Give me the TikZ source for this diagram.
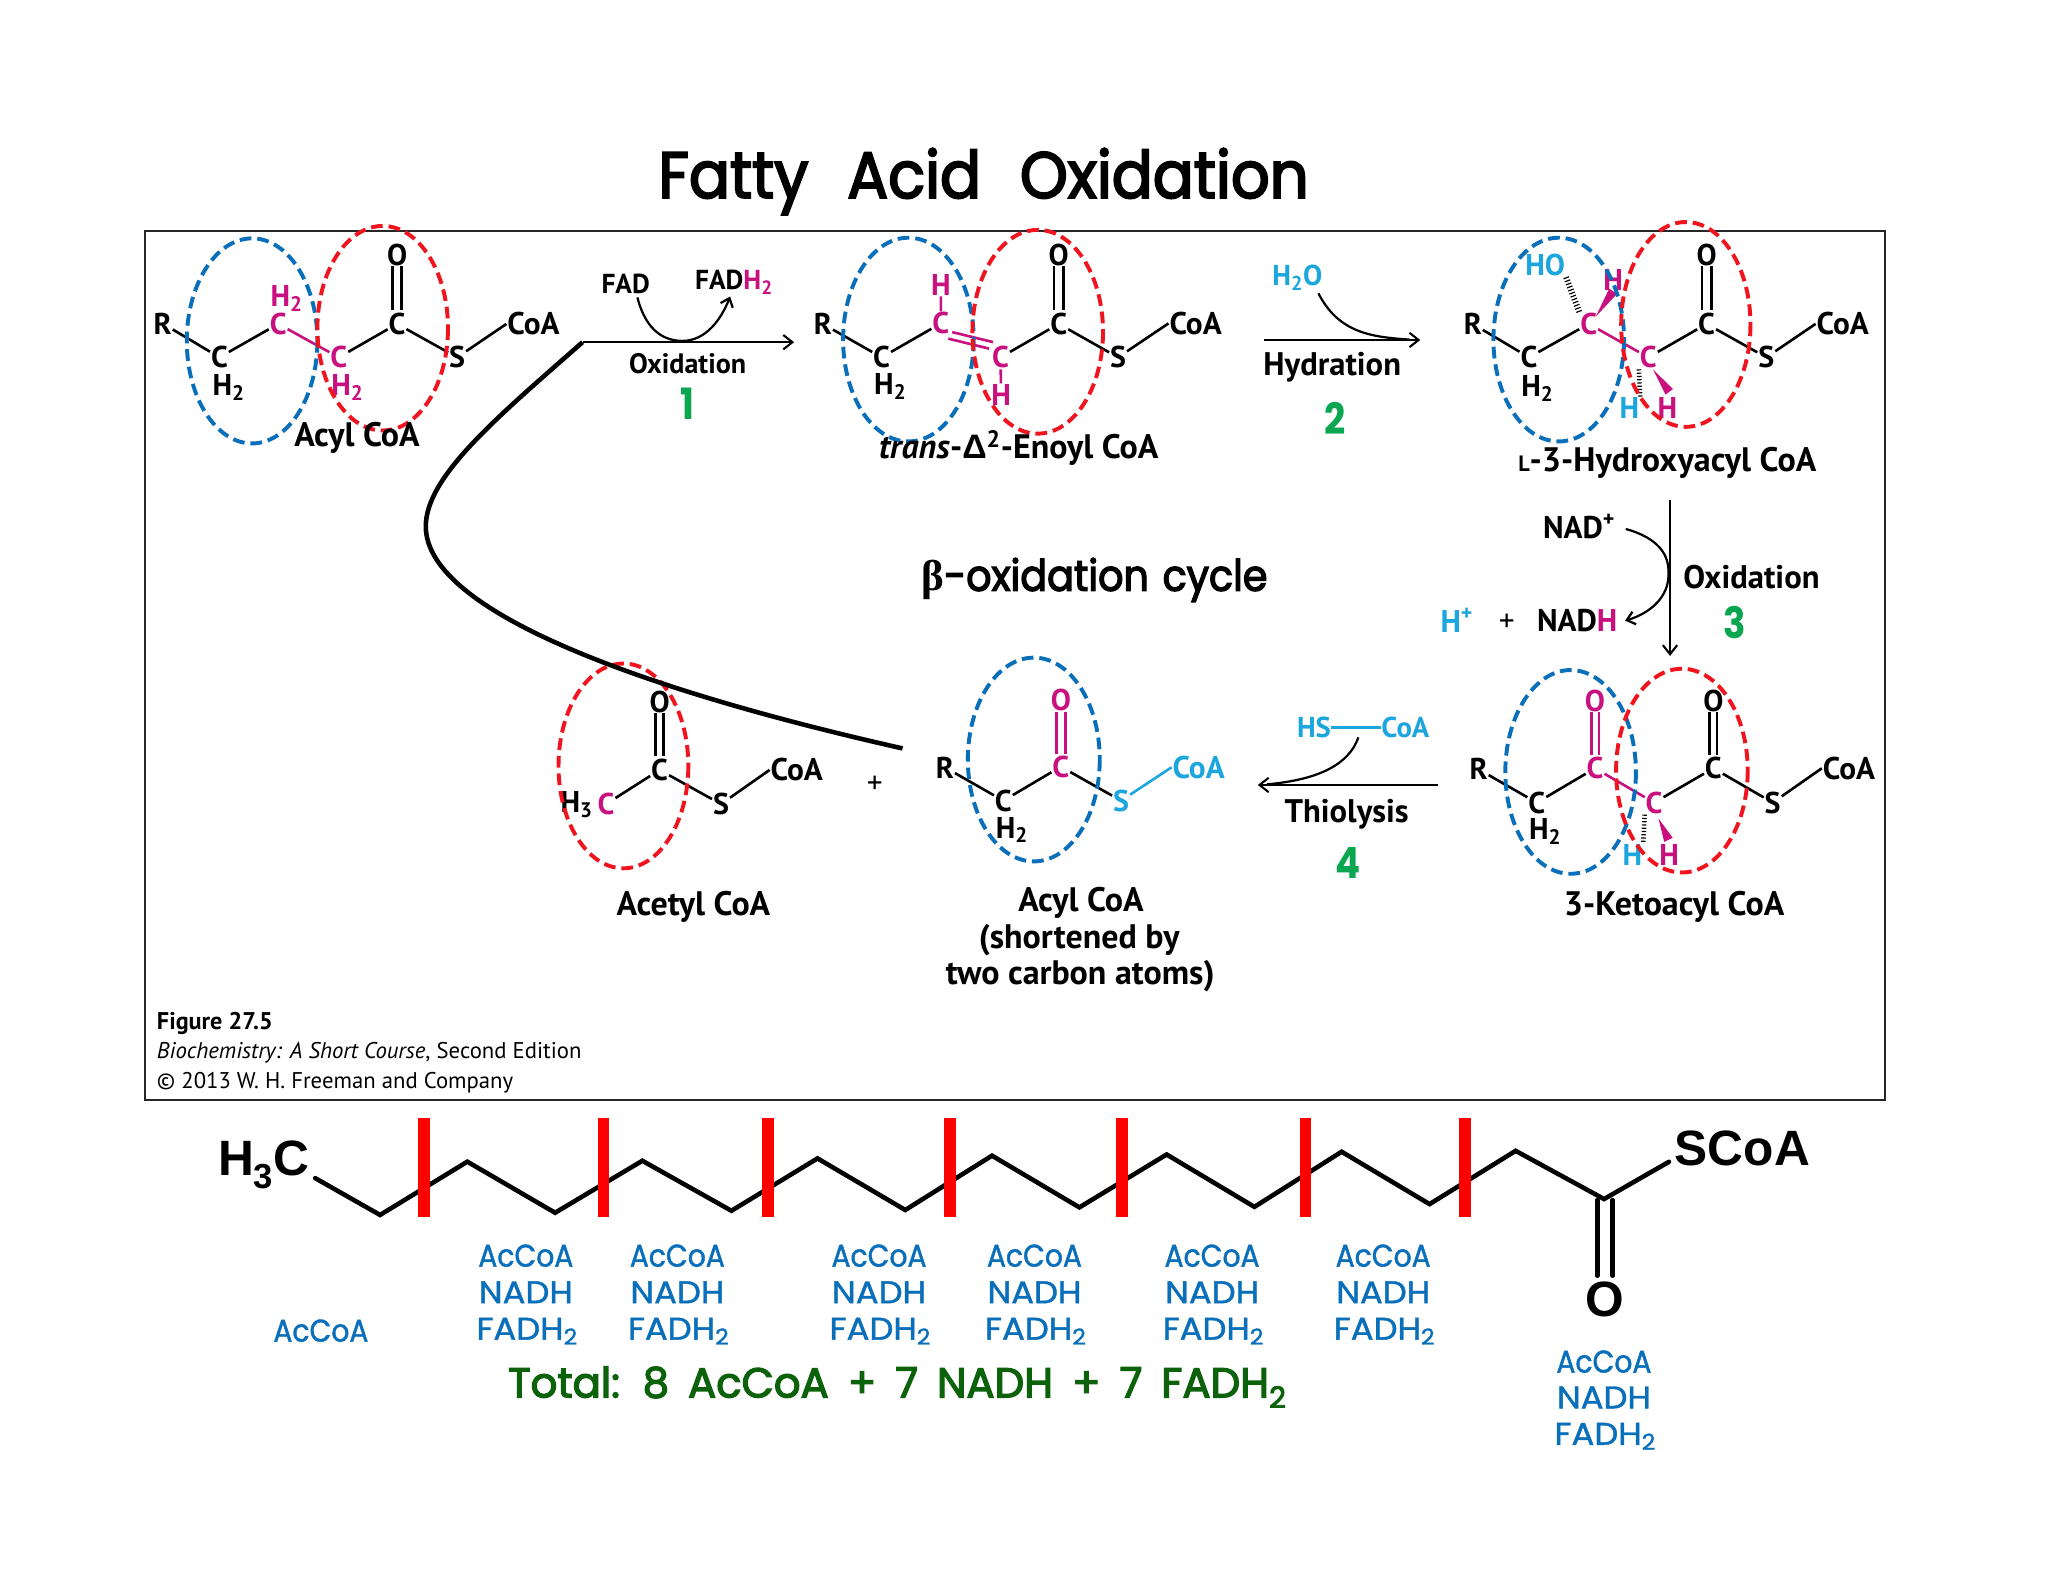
\documentclass[tikz,border=0pt]{standalone}
\usepackage{fontspec}
\usetikzlibrary{arrows.meta,calc}
\setmainfont{PT Sans}
\newfontfamily\comic{Poppins}[FakeStretch=0.86]
\newfontfamily\comict{Poppins}[FakeStretch=0.93,FakeBold=3,WordSpace=2.4]
\newfontfamily\comicc{Poppins}[FakeStretch=0.92,FakeBold=3,WordSpace=1.3]
\newfontfamily\comicg{Poppins}[FakeStretch=1.0,FakeBold=3,WordSpace=1.7]
\newfontfamily\comicn{Poppins}[FakeStretch=0.9,FakeBold=1.3]
\newfontfamily\comicw{Poppins}[FakeStretch=1.08,FakeBold=1.3]
\newfontfamily\arialf{Liberation Sans}
\newfontfamily\serifgr{Liberation Serif}
\definecolor{cblue}{HTML}{0A6FBA}
\definecolor{cred}{HTML}{F0141E}
\definecolor{cpink}{HTML}{C9107F}
\definecolor{ccyan}{HTML}{1BA6DE}
\definecolor{cgreen}{HTML}{0BA650}
\definecolor{dgreen}{HTML}{0B620B}
\newcommand{\fs}[1]{\fontsize{#1}{#1}\selectfont}
\tikzset{
  atom/.style={font=\fs{23}\bfseries,inner sep=0.6pt,text=black},
  coalab/.style={atom,font=\fs{24}\bfseries},
  patom/.style={atom,text=cpink},
  catom/.style={atom,text=ccyan},
  bond/.style={line width=2pt,black},
  pbond/.style={line width=2pt,cpink},
  cbond/.style={line width=2pt,ccyan},
  blueloop/.style={draw=cblue,line width=3pt,dash pattern=on 9pt off 4.5pt},
  redloop/.style={draw=cred,line width=3pt,dash pattern=on 9pt off 4.5pt},
  rarrow/.style={line width=1.9pt,-{Straight Barb[length=7pt,width=11pt,line width=1.6pt]}},
  rcurve/.style={line width=1.7pt},
  namelab/.style={font=\fs{26}\bfseries,inner sep=0pt,text=black},
  steplab/.style={font=\fs{25}\bfseries,inner sep=0pt,text=black},
  numlab/.style={font=\fs{33}\bfseries\comic,inner sep=0pt,text=cgreen},
  caplab/.style={font=\fs{17.4},inner sep=0pt,anchor=west,text=black},
  yield/.style={font=\fs{24}\comicn,inner sep=0pt,text=cblue},
  yieldw/.style={font=\fs{24}\comicw,inner sep=0pt,text=cblue},
  bar/.style={fill=red,draw=none,minimum width=9pt,minimum height=76pt,inner sep=0pt},
  wedgefill/.style={fill=cpink,draw=none},
  hash/.style={line width=4.5pt,dash pattern=on 0.9pt off 1.6pt,black},
}
\newcommand{\wedgebond}[2]{\fill[wedgefill] (#1) -- ($(#2)!3.6pt!90:(#1)$) -- ($(#2)!3.6pt!-90:(#1)$) -- cycle;}
\newcommand{\dbl}[5]{\draw[#5] (#1-#3,#2) -- (#1-#3,#4) (#1+#3,#2) -- (#1+#3,#4);}
\begin{document}
\begin{tikzpicture}[x=1pt,y=-1pt]
\useasboundingbox (0,0) rectangle (1568,1211.2);
\fill[white] (0,0) rectangle (1568,1211.2);
\node[font=\fs{50}\comict,inner sep=0pt] (title) at (753,139) {Fatty Acid Oxidation};
\draw[line width=1.4pt,black!85] (111,177) rectangle (1443,842);

% molecule 1
\node[atom] (ar) at (124.5,247.6) {R};
\node[atom] (ac1) at (168,273.6) {C};
\node[atom] (ah1) at (175,297) {H\textsubscript{2}};
\node[patom] (ac2) at (213,248) {C};
\node[patom] (ah2) at (219.5,228.5) {H\textsubscript{2}};
\node[patom] (ac3) at (259.4,273.6) {C};
\node[patom] (ah3) at (266,297) {H\textsubscript{2}};
\node[atom] (ac4) at (304,248) {C};
\node[atom] (ao) at (304,195) {O};
\node[atom] (as) at (350,273.6) {S};
\node[coalab] (acoa) at (408.5,248) {CoA};
\draw[bond] (ar)--(ac1) (ac1)--(ac2) (ac3)--(ac4) (ac4)--(as) (as)--(acoa.west);
\draw[pbond] (ac2)--(ac3);
\dbl{304}{204}{3.6}{237}{bond}
\draw[blueloop] (193,261) ellipse [x radius=50,y radius=78.5];
\draw[redloop] (293,251.3) ellipse [x radius=50,y radius=78.3];
\node[namelab] (aname) at (273.3,335) {Acyl CoA};

% step 1
\coordinate (s1a) at (446,262);
\coordinate (s1b) at (608,262);
\coordinate (s1c) at (488,227.7);
\coordinate (s1d) at (559,227);
\node[steplab,font=\fs{21}\bfseries] (fad) at (479,217) {FAD};
\node[steplab,font=\fs{21}\bfseries] (fadh) at (562,216) {FAD\textcolor{cpink}{H\textsubscript{2}}};
\draw[rarrow] (s1a)--(s1b);
\draw[rcurve,-{Straight Barb[length=6pt,width=10pt]}] (s1c) .. controls (495,255) and (510,261) .. (522.5,261) .. controls (540,261) and (552,245) .. (s1d);
\node[steplab,font=\fs{21.5}\bfseries] (s1l) at (526.5,278.7) {Oxidation};
\node[numlab] (n1) at (526.5,309) {1};

% molecule 2
\node[atom] (br) at (630,248) {R};
\node[atom] (bc1) at (675,273.6) {C};
\node[atom] (bh1) at (681.6,296) {H\textsubscript{2}};
\node[patom] (bc2) at (720.3,247.6) {C};
\node[patom] (bh2) at (720.3,218) {H};
\node[patom] (bc3) at (766,273.6) {C};
\node[patom] (bh3) at (766.5,302.4) {H};
\node[atom] (bc4) at (810.6,248) {C};
\node[atom] (bo) at (810.6,195) {O};
\node[atom] (bs) at (856,273.6) {S};
\node[coalab] (bcoa) at (915.4,247.6) {CoA};
\draw[bond] (br)--(bc1) (bc1)--(bc2) (bc3)--(bc4) (bc4)--(bs) (bs)--(bcoa.west);
\draw[pbond] (bc2)--(bh2) (bc3)--(bh3);
\draw[pbond] ([shift={(1.5,-2.5)}]bc2.south east)--([shift={(1.5,-2.5)}]bc3.north west);
\draw[pbond] ([shift={(-1.5,2.5)}]bc2.south east)--([shift={(-1.5,2.5)}]bc3.north west);
\dbl{810.6}{204}{3.6}{237}{bond}
\draw[blueloop] (695.5,260) ellipse [x radius=50,y radius=78];
\draw[redloop] (794.5,254) ellipse [x radius=50,y radius=78];
\node[namelab] (bname) at (780,343) {\textit{trans}-{\arialf\bfseries Δ}\textsuperscript{2}-Enoyl CoA};

% step 2
\coordinate (s2a) at (967.5,260.3);
\coordinate (s2b) at (1087.4,260.3);
\coordinate (s2c) at (1009.4,224.6);
\coordinate (s2d) at (1079,260);
\node[steplab,font=\fs{22}\bfseries,text=ccyan] (h2o) at (993.3,213) {H\textsubscript{2}O};
\draw[rarrow] (s2a)--(s2b);
\draw[rcurve] (s2c) .. controls (1025,255) and (1050,258) .. (s2d);
\node[steplab] (s2l) at (1020,281.5) {Hydration};
\node[numlab] (n2) at (1021.8,320) {2};

% molecule 3
\node[atom] (cr) at (1127.6,248) {R};
\node[atom] (cc1) at (1170.6,273.6) {C};
\node[atom] (ch1) at (1177,297.3) {H\textsubscript{2}};
\node[patom] (cc2) at (1216.3,248) {C};
\node[catom] (cho) at (1183,203) {HO};
\node[patom] (ch2) at (1235,214.4) {H};
\node[patom] (cc3) at (1262,273.6) {C};
\node[catom] (ch3) at (1247.5,312.6) {H};
\node[patom] (ch4) at (1276.5,312.6) {H};
\node[atom] (cc4) at (1306.6,248) {C};
\node[atom] (co) at (1306.6,195) {O};
\node[atom] (cs) at (1352.3,273.6) {S};
\node[coalab] (ccoa) at (1410.8,248) {CoA};
\draw[bond] (cr)--(cc1) (cc1)--(cc2) (cc3)--(cc4) (cc4)--(cs) (cs)--(ccoa.west);
\draw[pbond] (cc2)--(cc3);
\draw[hash] (cc2.north west)--(cho.south east);
\draw[hash,line width=3.5pt] (cc3.south west)--(ch3.north east);
\coordinate (cw1) at (1221.7,242.5); \coordinate (cw2) at (1235,223);
\wedgebond{cw1}{cw2}
\coordinate (cw3) at (1265.7,283); \coordinate (cw4) at (1278,300);
\wedgebond{cw3}{cw4}
\dbl{1306.6}{204}{3.6}{237}{bond}
\draw[blueloop] (1193.4,260) ellipse [x radius=50,y radius=78];
\draw[redloop] (1290.7,248.4) ellipse [x radius=49.5,y radius=78.4];
\node[namelab] (cname) at (1276.5,354) {{\fs{17}L}-3-Hydroxyacyl CoA};

% step 3
\coordinate (s3a) at (1278.6,383);
\coordinate (s3b) at (1278.6,502.2);
\coordinate (s3c) at (1244.7,405);
\coordinate (s3d) at (1244.2,475.2);
\node[steplab,font=\fs{24}\bfseries] (nad) at (1209,403) {NAD\textsuperscript{+}};
\node[steplab,font=\fs{24}\bfseries] (nadh) at (1207.5,475) {NAD\textcolor{cpink}{H}};
\node[steplab,font=\fs{24}\bfseries,text=ccyan] (hp) at (1115.4,475) {H\textsuperscript{+}};
\node[steplab,font=\fs{24}] (plus3) at (1153.6,477) {+};
\draw[rarrow] (s3a)--(s3b);
\draw[rcurve,-{Straight Barb[length=6pt,width=10pt]}] (s3c) .. controls (1270,412) and (1278,425) .. (1277.4,439) .. controls (1278,458) and (1262,470) .. (s3d);
\node[steplab] (s3l) at (1341,441.5) {Oxidation};
\node[numlab] (n3) at (1328.4,477) {3};

% molecule 4
\node[atom] (dr) at (1132,589) {R};
\node[atom] (dc1) at (1176.6,614.5) {C};
\node[atom] (dh1) at (1183,636.7) {H\textsubscript{2}};
\node[patom] (dc2) at (1221.2,588.2) {C};
\node[patom] (do1) at (1221.2,536.4) {O};
\node[patom] (dc3) at (1266.4,614.5) {C};
\node[catom] (dh3) at (1249.8,654.5) {H};
\node[patom] (dh4) at (1278,654.5) {H};
\node[atom] (dc4) at (1311.8,588.2) {C};
\node[atom] (do2) at (1311.8,536.4) {O};
\node[atom] (ds) at (1357.2,614.5) {S};
\node[coalab] (dcoa) at (1415.6,588.2) {CoA};
\draw[bond] (dr)--(dc1) (dc1)--(dc2) (dc3)--(dc4) (dc4)--(ds) (ds)--(dcoa.west);
\draw[pbond] (dc2)--(dc3);
\dbl{1221.2}{545}{2.9}{578}{pbond}
\dbl{1311.8}{545}{2.9}{578}{bond}
\draw[hash,line width=3.5pt] (dc3.south west)--(dh3.north east);
\coordinate (dw1) at (1269.7,626.5); \coordinate (dw2) at (1277.4,643);
\wedgebond{dw1}{dw2}
\draw[blueloop] (1202.5,591) ellipse [x radius=50,y radius=78];
\draw[redloop] (1287.7,590) ellipse [x radius=50.4,y radius=78];
\node[namelab] (dname) at (1281.7,694.5) {3-Ketoacyl CoA};

% step 4
\coordinate (s4a) at (1101,601);
\coordinate (s4b) at (963,601);
\coordinate (s4c) at (1040,564.5);
\coordinate (s4d) at (970,600.5);
\node[steplab,font=\fs{22}\bfseries,text=ccyan] (hs) at (1006,557) {HS};
\node[steplab,font=\fs{22}\bfseries,text=ccyan] (hscoa) at (1076,557) {CoA};
\draw[cbond] (hs)--(hscoa);
\draw[rarrow] (s4a)--(s4b);
\draw[rcurve] (s4c) .. controls (1033,585) and (1010,597) .. (s4d);
\node[steplab] (s4l) at (1031,623.5) {Thiolysis};
\node[numlab] (n4) at (1032,661) {4};

% molecule 5
\node[atom] (er) at (723.4,587.5) {R};
\node[atom] (ec1) at (768.2,613) {C};
\node[atom] (eh1) at (774.8,635.5) {H\textsubscript{2}};
\node[patom] (ec2) at (812.2,587) {C};
\node[patom] (eo) at (812.2,536) {O};
\node[catom] (es) at (858.3,613) {S};
\node[catom,font=\fs{24}\bfseries] (ecoa) at (917.7,587.5) {CoA};
\draw[bond] (er)--(ec1) (ec1)--(ec2) (ec2)--(es);
\draw[cbond] (es)--(ecoa.west);
\dbl{812.2}{545}{3.4}{577}{pbond}
\draw[blueloop] (791.5,581.5) ellipse [x radius=50.5,y radius=78];
\node[namelab] (ename1) at (827.6,691.5) {Acyl CoA};
\node[namelab] (ename2) at (826.2,719.5) {(shortened by};
\node[namelab] (ename3) at (827,747.5) {two carbon atoms)};
\node[steplab,font=\fs{24}] (plus4) at (669.8,601) {+};

% acetyl
\node[atom] (fh) at (441.5,616.3) {H\textsubscript{3}};
\node[patom] (fc1) at (464,615.6) {C};
\node[atom] (fc2) at (505,589.5) {C};
\node[atom] (fo) at (505,537.2) {O};
\node[atom] (fs) at (552,615.6) {S};
\node[coalab] (fcoa) at (610,589.5) {CoA};
\draw[bond] (fc1)--(fc2) (fc2)--(fs) (fs)--(fcoa.west);
\dbl{505}{546}{3}{579}{bond}
\draw[redloop] (477.3,586.4) ellipse [x radius=49.7,y radius=78.4];
\node[namelab] (fname) at (530.9,694.5) {Acetyl CoA};

% return curve
\coordinate (rc) at (691,573);
\draw[line width=3.5pt,black] (s1a) .. controls (380,320) and (326,365) .. (326,403) .. controls (326,470) and (500,530) .. (rc);

\node[font=\fs{33}\comicc,inner sep=0pt] (cycle) at (838,444) {{\serifgr\bfseries β}-oxidation cycle};

% caption
\node[caplab,font=\fs{18.5}\bfseries] (cap1) at (120,783.5) {Figure 27.5};
\node[caplab] (cap2) at (120,806) {\textit{Biochemistry: A Short Course}, Second Edition};
\node[caplab] (cap3) at (120,829) {© 2013 W. H. Freeman and Company};

% chain
\draw[line width=3.5pt,black,line cap=round,line join=miter] (241.3,902) -- (291,930.2) -- (357.8,889.4) -- (425,928.5) -- (491.8,888.7) -- (560,927) -- (625.9,886.9) -- (693.1,926.4) -- (759.5,884.8) -- (826.4,924.4) -- (893.2,883.9) -- (960.4,924) -- (1027.2,881.8) -- (1094.5,921.9) -- (1160.4,881.1) -- (1228.1,918) -- (1277.8,889.5);
\draw[line width=3.5pt,black,line cap=round] (1222.9,918.8) -- (1222.9,976.7) (1234.7,918.8) -- (1234.7,976.7);
\node[font=\fs{38}\bfseries\arialf,inner sep=0pt] (h3c) at (202,892) {H\textsubscript{3}C};
\node[font=\fs{38}\bfseries\arialf,inner sep=0pt] (oo) at (1228.6,994.6) {O};
\node[font=\fs{38}\bfseries\arialf,inner sep=0pt] (scoa) at (1334,879.3) {SCoA};
\foreach \n/\x in {1/324.8,2/462,3/588,4/727.4,5/858.9,6/999.6,7/1121.8}
  \node[bar] (bar\n) at (\x,893.6) {};

% yields
\foreach \n/\x in {1/402.6,2/518.6,3/673,4/792,5/928,6/1059}{
  \node[yield] (ya\n) at (\x,961.4) {AcCoA};
  \node[yieldw] (yb\n) at (\x,989.4) {NADH};
  \node[yieldw] (yc\n) at (\x+1,1019.2) {FADH\textsubscript{2}};
}
\node[yield] (ysingle) at (245.7,1018.8) {AcCoA};
\node[yield] (yla) at (1228,1042.5) {AcCoA};
\node[yieldw] (ylb) at (1228,1069.9) {NADH};
\node[yieldw] (ylc) at (1229,1099.7) {FADH\textsubscript{2}};
\node[font=\fs{32}\comicg,inner sep=0pt,text=dgreen] (total) at (687,1062) {Total: 8 AcCoA + 7 NADH + 7 FADH\textsubscript{2}};
\end{tikzpicture}
\end{document}
